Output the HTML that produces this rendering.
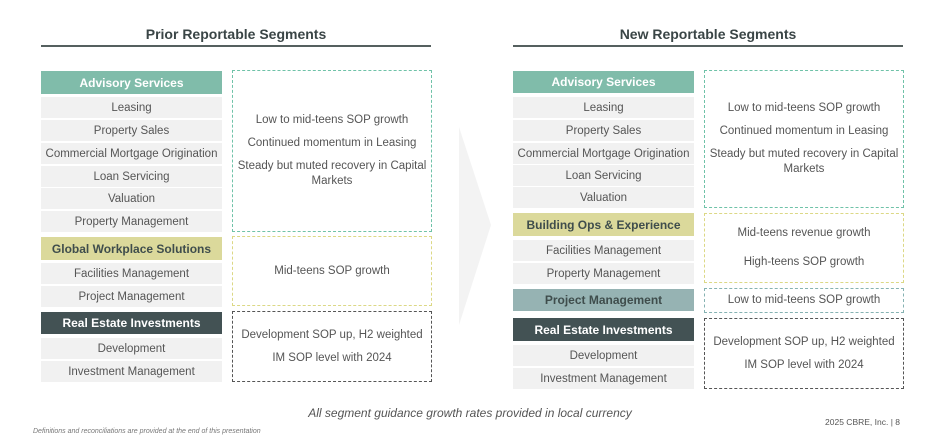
<!DOCTYPE html>
<html><head><meta charset="utf-8"><style>
body{margin:0;width:934px;height:441px;background:#fff;position:relative;overflow:hidden;font-family:"Liberation Sans",sans-serif;color:#555}
div{position:absolute;box-sizing:border-box}
.c{display:flex;align-items:center;justify-content:center;text-align:center}
.i{background:#f1f1f1;font-size:11.5px;color:#555}
.h{font-weight:bold;font-size:12px}
.hg{background:#80bcaa;color:#fff}
.hy{background:#dbd99b;color:#3f4d4c}
.hd{background:#435254;color:#fff}
.ht{background:#96b3b3;color:#3f4d4c}
.b{font-size:11.5px;color:#555;flex-direction:column;line-height:15px}
.b p{margin:4px 0}
.dg{border:1.5px dashed #6fc2a8}
.dy{border:1.5px dashed #dcd885}
.dd{border:1.5px dashed #555}
.dt{border:1.5px dashed #86b2b2}
.t{font-weight:bold;font-size:14px;color:#3a4546}
.ln{height:2px;background:#55605f}
</style></head><body>
<div class="c t" style="left:41px;width:390px;top:25px;height:18px">Prior Reportable Segments</div>
<div class="ln" style="left:41px;width:390px;top:45px"></div>
<div class="c t" style="left:513px;width:390px;top:25px;height:18px">New Reportable Segments</div>
<div class="ln" style="left:513px;width:390px;top:45px"></div>

<div class="c h hg" style="left:41px;width:181px;top:71px;height:23px">Advisory Services</div>
<div class="c i" style="left:41px;width:181px;top:97px;height:21px">Leasing</div>
<div class="c i" style="left:41px;width:181px;top:120px;height:21px">Property Sales</div>
<div class="c i" style="left:41px;width:181px;top:143px;height:21px">Commercial Mortgage Origination</div>
<div class="c i" style="left:41px;width:181px;top:166px;height:21px">Loan Servicing</div>
<div class="c i" style="left:41px;width:181px;top:188px;height:21px">Valuation</div>
<div class="c i" style="left:41px;width:181px;top:211px;height:21px">Property Management</div>
<div class="c h hy" style="left:41px;width:181px;top:237px;height:23px">Global Workplace Solutions</div>
<div class="c i" style="left:41px;width:181px;top:263px;height:21px">Facilities Management</div>
<div class="c i" style="left:41px;width:181px;top:286px;height:21px">Project Management</div>
<div class="c h hd" style="left:41px;width:181px;top:312px;height:22px">Real Estate Investments</div>
<div class="c i" style="left:41px;width:181px;top:338px;height:21px">Development</div>
<div class="c i" style="left:41px;width:181px;top:361px;height:21px">Investment Management</div>

<div class="c b dg" style="left:232px;width:200px;top:70px;height:162px"><p>Low to mid-teens SOP growth</p><p>Continued momentum in Leasing</p><p>Steady but muted recovery in Capital<br>Markets</p></div>
<div class="c b dy" style="left:232px;width:200px;top:236px;height:70px"><p>Mid-teens SOP growth</p></div>
<div class="c b dd" style="left:232px;width:200px;top:311px;height:71px"><p>Development SOP up, H2 weighted</p><p>IM SOP level with 2024</p></div>

<svg style="position:absolute;left:0;top:0" width="934" height="441"><polygon points="459,127 491,225 459,325" fill="#f3f3f3"/></svg>

<div class="c h hg" style="left:513px;width:181px;top:71px;height:22px">Advisory Services</div>
<div class="c i" style="left:513px;width:181px;top:97px;height:21px">Leasing</div>
<div class="c i" style="left:513px;width:181px;top:120px;height:21px">Property Sales</div>
<div class="c i" style="left:513px;width:181px;top:143px;height:21px">Commercial Mortgage Origination</div>
<div class="c i" style="left:513px;width:181px;top:165px;height:21px">Loan Servicing</div>
<div class="c i" style="left:513px;width:181px;top:187px;height:21px">Valuation</div>
<div class="c h hy" style="left:513px;width:181px;top:213px;height:23px">Building Ops &amp; Experience</div>
<div class="c i" style="left:513px;width:181px;top:240px;height:21px">Facilities Management</div>
<div class="c i" style="left:513px;width:181px;top:263px;height:21px">Property Management</div>
<div class="c h ht" style="left:513px;width:181px;top:289px;height:22px">Project Management</div>
<div class="c h hd" style="left:513px;width:181px;top:318px;height:23px">Real Estate Investments</div>
<div class="c i" style="left:513px;width:181px;top:345px;height:21px">Development</div>
<div class="c i" style="left:513px;width:181px;top:368px;height:21px">Investment Management</div>

<div class="c b dg" style="left:704px;width:200px;top:70px;height:138px"><p>Low to mid-teens SOP growth</p><p>Continued momentum in Leasing</p><p>Steady but muted recovery in Capital<br>Markets</p></div>
<div class="c b dy" style="left:704px;width:200px;top:213px;height:70px"><p>Mid-teens revenue growth</p><p style="margin-top:10px">High-teens SOP growth</p></div>
<div class="c b dt" style="left:704px;width:200px;top:288px;height:25px"><p>Low to mid-teens SOP growth</p></div>
<div class="c b dd" style="left:704px;width:200px;top:318px;height:71px"><p>Development SOP up, H2 weighted</p><p>IM SOP level with 2024</p></div>

<div class="c" style="left:250px;width:440px;top:405px;height:16px;font-size:12px;font-style:italic;color:#555">All segment guidance growth rates provided in local currency</div>
<div style="left:780px;width:120px;top:417px;font-size:8.5px;text-align:right;color:#555">2025 CBRE, Inc. | 8</div>
<div style="left:33px;top:428px;font-size:7px;font-style:italic;color:#777">Definitions and reconciliations are provided at the end of this presentation</div>
</body></html>
